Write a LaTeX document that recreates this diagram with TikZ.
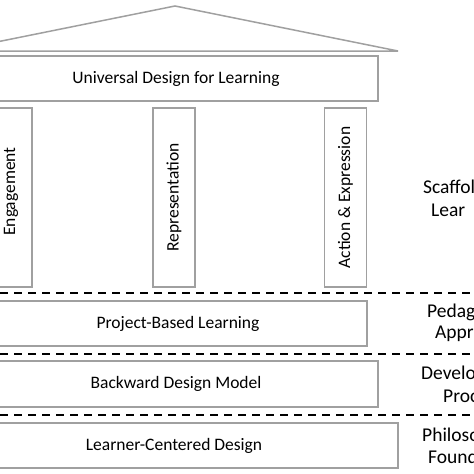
\documentclass[tikz,border=0pt]{standalone}
\usepackage{fontspec}
\setmainfont{Carlito}
\usepackage{xcolor}
\usepackage{tikz}
\usetikzlibrary{positioning}
\definecolor{pillargray}{RGB}{160,160,160}
\tikzstyle{beam} = [rectangle, draw=pillargray, line width=1.5pt, fill=white,
    minimum height=45pt, inner sep=0pt, font=\fontsize{17.5}{21}\selectfont]
\tikzstyle{pillar} = [rectangle, draw=pillargray, line width=1.5pt, fill=white,
    minimum width=42pt, minimum height=179pt, inner sep=0pt]
\tikzstyle{pillartext} = [rotate=90, inner sep=0pt, font=\fontsize{17.5}{21}\selectfont]
\tikzstyle{level} = [anchor=west, inner sep=0pt, font=\fontsize{19.5}{23}\selectfont]
\tikzstyle{divider} = [draw, black, line width=2.5pt, dash pattern=on 8pt off 6pt]
\tikzstyle{roof} = [draw=pillargray, line width=1.5pt]

\begin{document}
\begin{tikzpicture}[x=1pt, y=-1pt]
			\useasboundingbox (0,0) rectangle (474,474);
			\clip (0,0) rectangle (474,474);
			% roof
			\coordinate (roofL) at (-48,51);
			\coordinate (roofTop) at (175,6);
			\coordinate (roofR) at (398,51);
			\path [roof] (roofL) -- (roofTop) -- (roofR) -- cycle;

			\node [beam, minimum width=404pt] (udl) at (176,78.5) {Universal Design for Learning};

			\node [pillar] (engagement) at (11,197.5) {};
			\node [pillar] (representation) at (174,197.5) {};
			\node [pillar] (action) at (345.5,197.5) {};
			\node [pillartext, xshift=6pt] at (engagement.center) {Engagement};
			\node [pillartext] at (representation.center) {Representation};
			\node [pillartext] at (action.center) {Action \& Expression};

			\node [beam, minimum width=378pt] (pbl) at (178,323.5) {Project-Based Learning};
			\node [beam, minimum width=404pt, minimum height=46pt] (bdm) at (176,384) {Backward Design Model};
			\node [beam, minimum width=448pt] (lcd) at (174,445.5) {Learner-Centered Design};

			% Draw dividers
			\coordinate (div1L) at (0,293);
			\coordinate (div1R) at (474,293);
			\coordinate (div2L) at (0,354);
			\coordinate (div2R) at (474,354);
			\coordinate (div3L) at (0,415);
			\coordinate (div3R) at (474,415);
			\path [divider] (div1L) -- (div1R);
			\path [divider] (div2L) -- (div2R);
			\path [divider] (div3L) -- (div3R);

			% level labels
			\node [level] (scaffA) at (423,187) {Scaffol};
			\node [level] (scaffB) at (431,210) {Lear};
			\node [level] (pedA) at (427,312) {Pedag};
			\node [level] (pedB) at (435,334) {Appr};
			\node [level] (devA) at (421,373) {Develo};
			\node [level] (devB) at (443,396) {Proc};
			\node [level] (phiA) at (422,435) {Philoso};
			\node [level] (phiB) at (428,457) {Found};
%
	\end{tikzpicture}
\end{document}
